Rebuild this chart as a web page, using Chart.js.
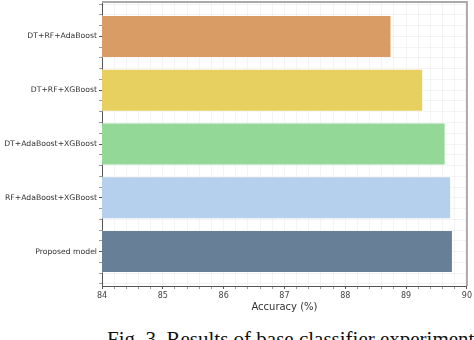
<!DOCTYPE html>
<html>
<head>
<meta charset="utf-8">
<script src="https://cdn.jsdelivr.net/npm/chart.js@4/dist/chart.umd.min.js"></script>
<style>
  html, body { margin: 0; padding: 0; background: #fff; width: 474px; height: 340px; overflow: hidden; }
  #wrap { position: absolute; left: 0; top: 0; width: 474px; height: 318px; }
  #caption { position: absolute; left: 107px; top: 327px; font-family: "Liberation Serif", serif; font-size: 21px; color: #111; white-space: nowrap; }
</style>
</head>
<body>
<div id="wrap"><canvas id="c"></canvas></div>
<div id="caption">Fig. 3. Results of base classifier experiments</div>
<script>
const categories = ["DT+RF+AdaBoost", "DT+RF+XGBoost", "DT+AdaBoost+XGBoost", "RF+AdaBoost+XGBoost", "Proposed model"];
const accuracy = [88.76, 89.28, 89.65, 89.74, 89.77];
const barColors = ["#D89C64", "#E8D060", "#94D898", "#B4D0EC", "#687F98"];
const xTickLabels = [84, 85, 86, 87, 88, 89, 90];
const xTitle = "Accuracy (%)";

const isInt = v => Math.abs(v - Math.round(v)) < 1e-6;
const tickCol = (ctx) => (ctx && ctx.tick && !isInt(ctx.tick.value)) ? '#999' : '#555';
const yMin = -0.64, yMax = categories.length - 1 + 0.64;

new Chart(document.getElementById('c'), {
  type: 'bar',
  data: {
    datasets: [{
      data: accuracy.map((v, i) => ({ x: v, y: i })),
      backgroundColor: barColors,
      borderColor: 'rgba(255,255,255,0.35)',
      borderWidth: 1,
      borderSkipped: false,
      barPercentage: 0.8,
      categoryPercentage: 1.0
    }]
  },
  options: {
    indexAxis: 'y',
    responsive: true,
    maintainAspectRatio: false,
    animation: false,
    layout: { padding: { top: 2, right: 4, left: 0, bottom: 0 } },
    plugins: { legend: { display: false }, tooltip: { enabled: false } },
    scales: {
      x: {
        type: 'linear',
        min: xTickLabels[0],
        max: xTickLabels[xTickLabels.length - 1],
        afterBuildTicks: (s) => {
          const t = [];
          for (let k = 0; k <= (xTickLabels.length - 1) * 5; k++) t.push({ value: xTickLabels[0] + k * 0.2 });
          s.ticks = t;
        },
        afterFit: (s) => { s.height = 32; },
        border: { display: true, color: '#555', width: 1 },
        grid: {
          color: 'rgba(0,0,0,0.045)',
          tickLength: 3,
          tickColor: tickCol
        },
        ticks: {
          autoSkip: false,
          maxRotation: 0,
          padding: 2,
          color: '#444',
          font: { family: 'DejaVu Sans', size: 8 },
          callback: (v) => isInt(v) ? String(Math.round(v)) : ''
        },
        title: {
          display: true,
          text: xTitle,
          color: '#333',
          font: { family: 'DejaVu Sans', size: 10 },
          padding: { top: 0, bottom: 5 }
        }
      },
      y: {
        type: 'linear',
        position: 'left',
        weight: 1,
        reverse: true,
        offset: false,
        min: yMin,
        max: yMax,
        afterBuildTicks: (s) => {
          s.ticks = categories.map((c, i) => ({ value: i }));
        },
        afterFit: (s) => { s.width = 102; s.paddingTop = 0; s.paddingBottom = 0; },
        border: { display: true, color: '#555', width: 1 },
        grid: {
          offset: false,
          drawOnChartArea: false,
          tickLength: 3,
          tickColor: '#555'
        },
        ticks: {
          autoSkip: false,
          padding: 2,
          color: '#333',
          font: { family: 'DejaVu Sans', size: 7.7 },
          callback: (v) => categories[Math.round(v)] !== undefined ? categories[Math.round(v)] : ''
        }
      },
      y2: {
        type: 'linear',
        position: 'left',
        weight: 0,
        reverse: true,
        offset: false,
        min: yMin,
        max: yMax,
        afterBuildTicks: (s) => {
          const t = [];
          for (let k = -3; k <= (categories.length - 1) * 5 + 3; k++) t.push({ value: k * 0.2 });
          s.ticks = t;
        },
        afterFit: (s) => { s.width = 0; s.paddingTop = 0; s.paddingBottom = 0; },
        border: { display: false },
        grid: {
          offset: false,
          color: 'rgba(0,0,0,0.045)',
          tickLength: 3,
          tickColor: (ctx) => (ctx && ctx.tick && isInt(ctx.tick.value)) ? 'rgba(0,0,0,0)' : '#999'
        },
        ticks: { display: false, autoSkip: false }
      }
    }
  },
  plugins: [{
    id: 'frame',
    afterDraw(chart) {
      const { ctx, chartArea: a } = chart;
      ctx.save();
      ctx.strokeStyle = '#aaa';
      ctx.lineWidth = 2;
      ctx.beginPath();
      ctx.moveTo(a.left, a.top);
      ctx.lineTo(a.right, a.top);
      ctx.lineTo(a.right, a.bottom);
      ctx.stroke();
      ctx.restore();
    }
  }]
});
</script>
</body>
</html>
